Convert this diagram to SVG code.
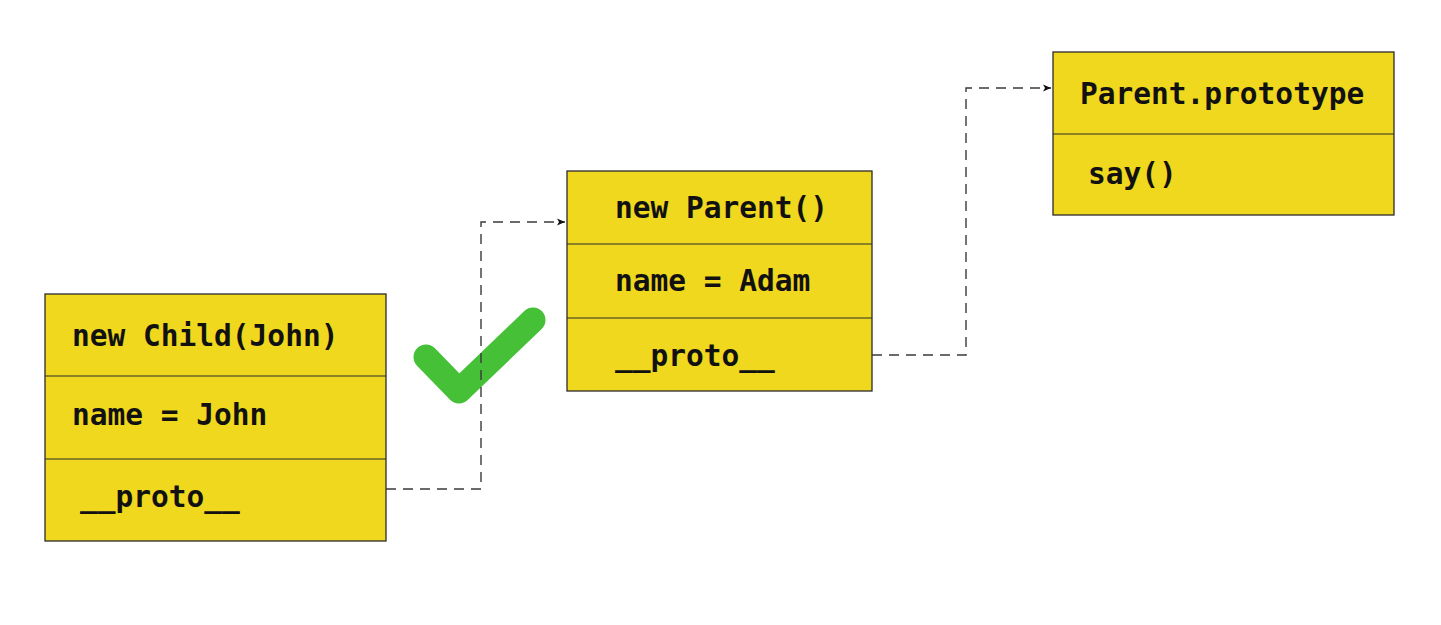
<svg xmlns="http://www.w3.org/2000/svg" width="1441" height="625" viewBox="0 0 1441 625">
<style>
.box{fill:#EFD81D;stroke:#2b2b2b;stroke-width:1.3}
.div{stroke:#2b2b2b;stroke-width:1.2}
.t{font-family:"DejaVu Sans Mono","Liberation Mono",monospace;font-weight:bold;font-size:29.5px;fill:#111}
.conn{fill:none;stroke:#3a3a3a;stroke-width:1.4;stroke-dasharray:10 7}
</style>
<defs>
<marker id="arr" markerWidth="10" markerHeight="10" refX="9" refY="5" orient="auto" markerUnits="userSpaceOnUse">
<path d="M1,1.5 L9,5 L1,8.5 L3,5 Z" fill="#111"/>
</marker>
</defs>
<rect width="1441" height="625" fill="#fff"/>
<g id="check">
<path d="M426,357 L459,391 L533,320" fill="none" stroke="#45C037" stroke-width="25" stroke-linecap="round" stroke-linejoin="round"/>
</g>
<g id="child">
<rect class="box" x="45" y="294" width="341" height="247"/>
<line class="div" x1="45" y1="376" x2="386" y2="376"/>
<line class="div" x1="45" y1="459" x2="386" y2="459"/>
<text class="t" x="72" y="346">new Child(John)</text>
<text class="t" x="72" y="425">name = John</text>
<text class="t" x="80" y="507">__proto__</text>
</g>
<g id="parent">
<rect class="box" x="567" y="171" width="305" height="220"/>
<line class="div" x1="567" y1="244" x2="872" y2="244"/>
<line class="div" x1="567" y1="318" x2="872" y2="318"/>
<text class="t" x="615" y="218">new Parent()</text>
<text class="t" x="615" y="291">name = Adam</text>
<text class="t" x="615" y="366">__proto__</text>
</g>
<g id="prototype">
<rect class="box" x="1053" y="52" width="341" height="163"/>
<line class="div" x1="1053" y1="134" x2="1394" y2="134"/>
<text class="t" x="1080" y="104">Parent.prototype</text>
<text class="t" x="1088" y="184">say()</text>
</g>
<g id="connectors">
<path class="conn" d="M386,489 H481 V222 H565" marker-end="url(#arr)"/>
<path class="conn" d="M872,355 H966 V88 H1051" marker-end="url(#arr)"/>
</g>
</svg>
